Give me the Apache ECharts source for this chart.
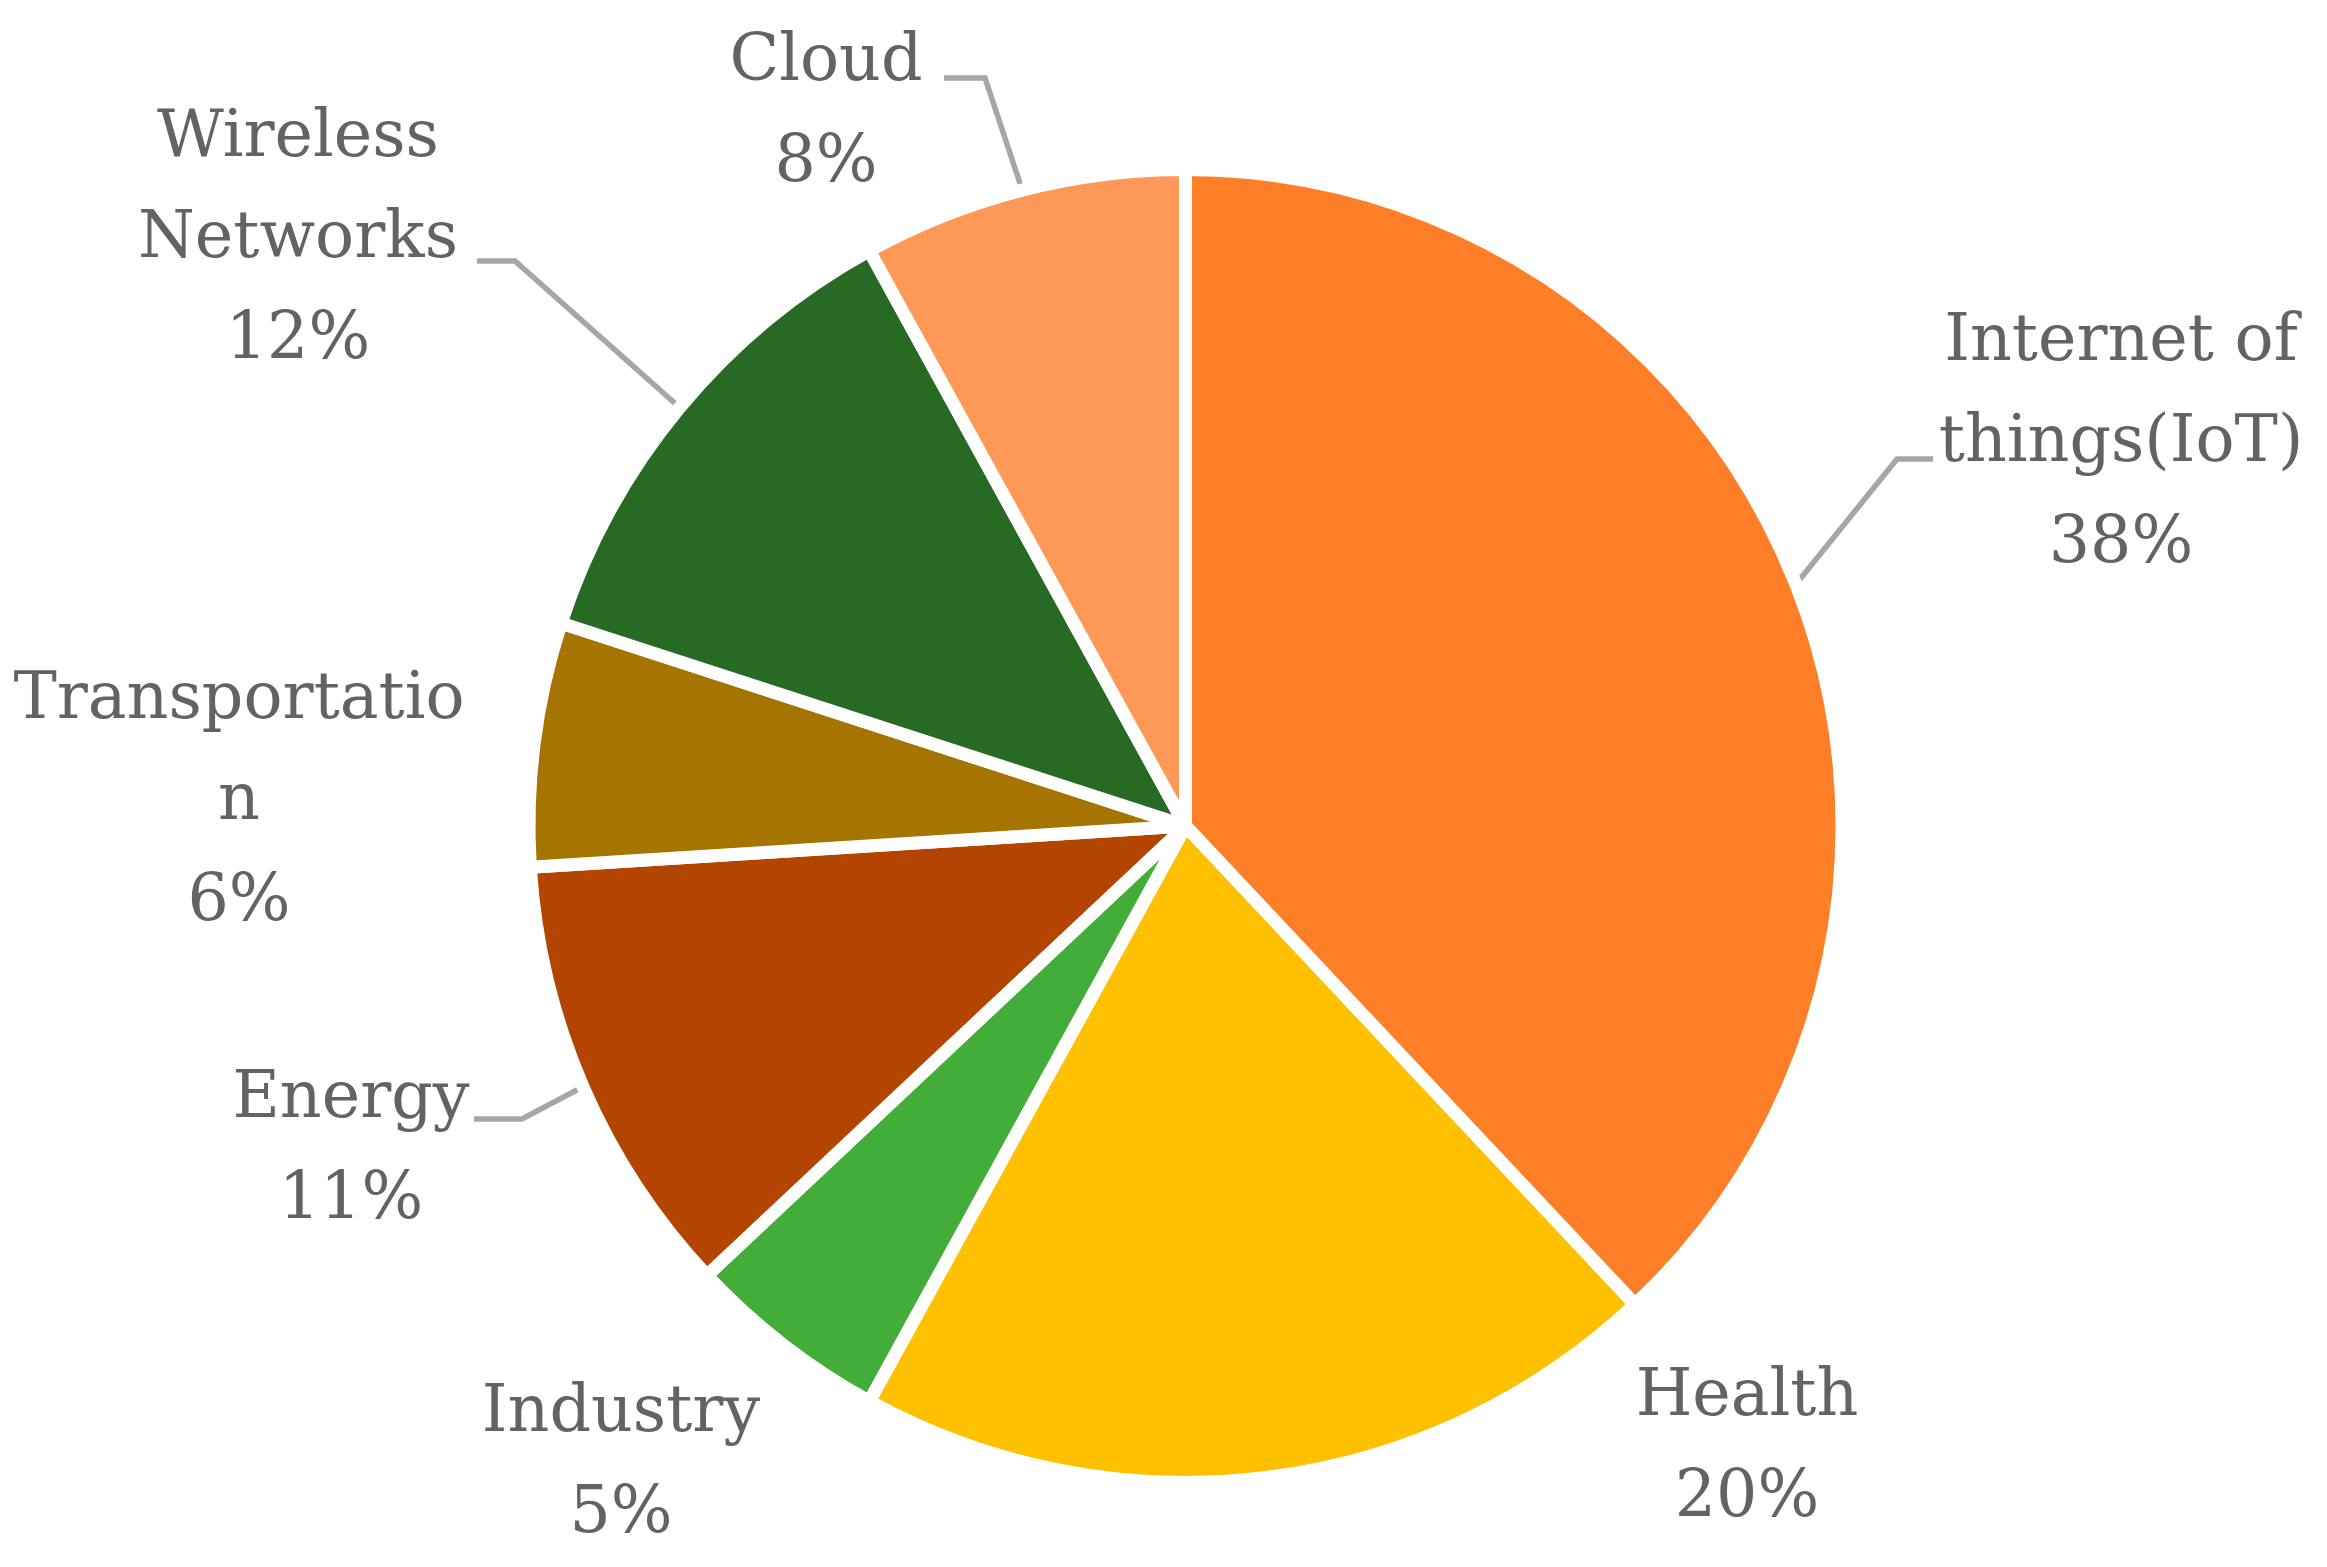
<!DOCTYPE html>
<html>
<head>
<meta charset="utf-8">
<script src="https://cdn.jsdelivr.net/npm/echarts@6/dist/echarts.min.js"></script>
<style>
html,body{margin:0;padding:0;background:#fff;}
#chart{width:2327px;height:1567px;}
</style>
</head>
<body>
<div id="chart"></div>
<script>
// ---- data ----
var categories = ["Internet of things(IoT)", "Health", "Industry", "Energy", "Transportation", "Wireless Networks", "Cloud"];
var values = [38, 20, 5, 11, 6, 12, 8];
// label text as wrapped in the reference
var labelText = ["Internet of\nthings(IoT)", "Health", "Industry", "Energy", "Transportatio\nn", "Wireless\nNetworks", "Cloud"];
var colors = ["#FE7F27", "#FFC000", "#43AD3A", "#B34500", "#A67400", "#266A23", "#FE9857"];
var showLeader = [true, false, false, true, false, true, true];

// ---- label placement (styling) ----
var labelPos = [[2121, 444], [1747, 1449], [621, 1465], [351, 1151], [239, 802], [298, 240], [826, 114]];
var leaderElbow = [[1897, 459], null, null, [522, 1119], null, [515, 261], [985, 78]];
var leaderEnd = [[1933, 459], null, null, [474, 1119], null, [477, 261], [944, 78]];

var chart = echarts.init(document.getElementById('chart'), null, {renderer: 'canvas'});

var data = categories.map(function (c, i) {
  return {
    name: c,
    value: values[i],
    itemStyle: {color: colors[i]},
    labelLine: {show: showLeader[i]}
  };
});

chart.setOption({
  animation: false,
  backgroundColor: '#ffffff',
  series: [{
    type: 'pie',
    center: [1185.5, 826],
    radius: 656.5,
    startAngle: 90,
    clockwise: true,
    avoidLabelOverlap: false,
    percentPrecision: 0,
    data: data,
    itemStyle: {borderColor: '#ffffff', borderWidth: 13},
    label: {
      show: true,
      position: 'outside',
      width: 700,
      overflow: 'none',
      fontFamily: 'DejaVu Serif',
      fontSize: 65,
      lineHeight: 101,
      color: '#636363',
      align: 'center',
      formatter: function (p) {
        return labelText[p.dataIndex] + '\n' + p.percent + '%';
      }
    },
    labelLine: {
      show: true,
      smooth: false,
      length: 30,
      length2: 30,
      lineStyle: {color: '#A6A6A6', width: 5.5}
    },
    labelLayout: function (params) {
      var i = params.dataIndex;
      var res = {
        x: labelPos[i][0],
        y: labelPos[i][1],
        align: 'center',
        verticalAlign: 'middle'
      };
      if (showLeader[i] && params.labelLinePoints) {
        var start = params.labelLinePoints[0];
        res.labelLinePoints = [start, leaderElbow[i], leaderEnd[i]];
      }
      return res;
    },
    emphasis: {disabled: true}
  }]
});
</script>
</body>
</html>
